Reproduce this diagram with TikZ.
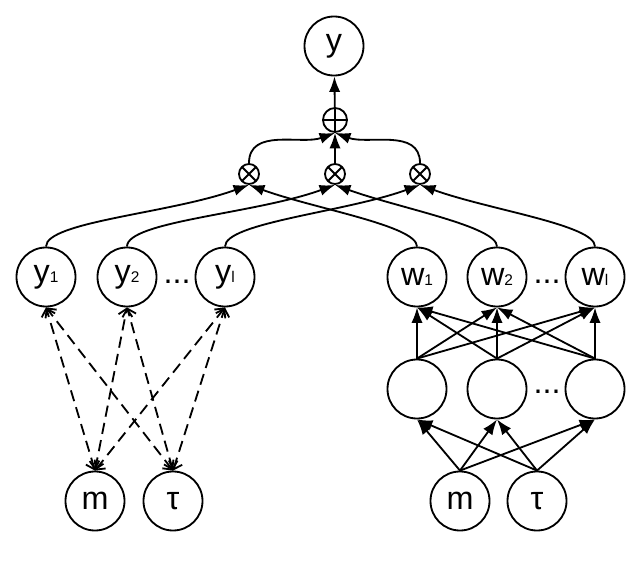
\documentclass[tikz,border=0pt]{standalone}
\usepackage{fontspec}
\setmainfont{Liberation Sans}
\usetikzlibrary{arrows.meta}
\newcommand{\ix}[1]{{\fontsize{11}{11}\selectfont #1}}

\begin{document}
\begin{tikzpicture}[x=0.025cm,y=0.025cm,line width=1.3pt,
    unit/.style={circle,draw,minimum size=1.475cm,inner sep=0pt,font=\fontsize{23}{23}\selectfont},
    plus/.style={circle,draw,minimum size=0.6cm,inner sep=0pt,
        path picture={\draw (path picture bounding box.north) -- (path picture bounding box.south)
            (path picture bounding box.west) -- (path picture bounding box.east);}},
    times/.style={circle,draw,minimum size=0.5cm,inner sep=0pt,
        path picture={\draw (path picture bounding box.north west) -- (path picture bounding box.south east)
            (path picture bounding box.north east) -- (path picture bounding box.south west);}},
    dots/.style={font=\fontsize{23}{23}\selectfont},
    link/.style={-{Latex[length=11pt,width=8pt]}},
    dep/.style={dash pattern=on 8pt off 4.5pt,{Straight Barb[length=5pt,width=10pt]}-{Straight Barb[length=5pt,width=10pt]}}]
    \useasboundingbox (0,0) rectangle (644,567);

    \node[unit] (y) at (334,521) {y};
    \node[plus] (s) at (335,447) {};
    \foreach \x/\px in {1/249,2/335,3/420}
        \node[times] (x\x) at (\px,393) {};
    \foreach \x/\px/\t in {1/46/1,2/127/2,3/225/l}
        \node[unit] (y\x) at (\px,290) {y\ix{\t}};
    \foreach \x/\px/\t in {1/417/1,2/497/2,3/595/l} {
        \node[unit] (w\x) at (\px,290) {w\ix{\t}};
        \node[unit] (h\x) at (\px,178) {};
    }
    \node[dots] (d1) at (177,285) {...};
    \node[dots] (d2) at (547,285) {...};
    \node[dots] (d3) at (547,175) {...};
    \node[unit] (m1) at (95,66) {m};
    \node[unit] (t1) at (173,66) {τ};
    \node[unit] (m2) at (460,66) {m};
    \node[unit] (t2) at (537,66) {τ};

    \draw[link] (s) -- (y);
    \draw[link] (x2) -- (s);
    \draw[link] (x1.north) to[out=90,in=200] (s.south);
    \draw[link] (x3.north) to[out=90,in=-20] (s.south);
    \foreach \x in {1,2,3} {
        \draw[link] (y\x.north) to[out=90,in=200,out looseness=0.3] (x\x.south);
        \draw[link] (w\x.north) to[out=90,in=-20,out looseness=0.3] (x\x.south);
    }
    \foreach \a in {1,2,3}
        \foreach \b in {1,2,3}
            \draw[link] (h\a.north) -- (w\b.south);
    \foreach \b in {1,2,3} {
        \draw[link] (m2.north) -- (h\b.south);
        \draw[link] (t2.north) -- (h\b.south);
        \draw[dep] (m1.north) -- (y\b.south);
        \draw[dep] (t1.north) -- (y\b.south);
    }
\end{tikzpicture}
\end{document}
